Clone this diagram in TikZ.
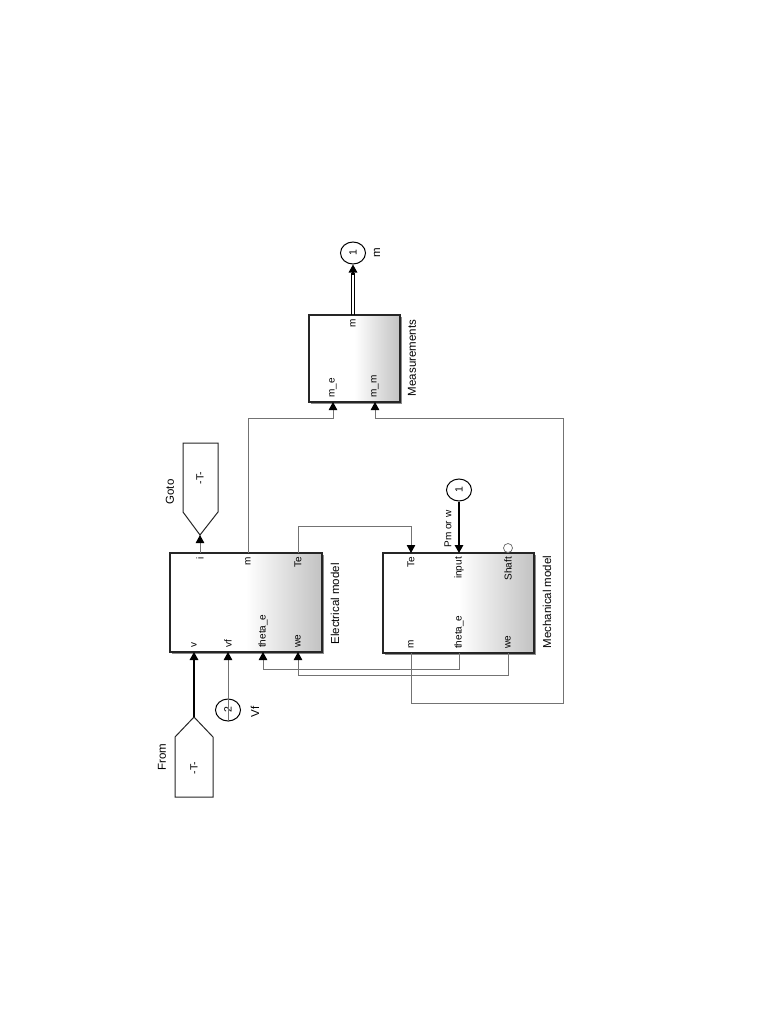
\documentclass[tikz,border=0pt]{standalone}
\usepackage{fontspec}
\setmainfont{Liberation Sans}
\usetikzlibrary{arrows.meta,shapes.geometric,shadows,calc}
\begin{document}
\begin{tikzpicture}[x=1pt,y=-1pt,
  blk/.style={draw=black!85, line width=1.2pt, left color=white, right color=black!24, middle color=white,
    drop shadow={shadow xshift=2pt,shadow yshift=-2pt,fill=black!45,opacity=1}, inner sep=0pt},
  prt/.style={ellipse, draw=black, line width=1pt, fill=white, minimum width=25pt, minimum height=22pt,
    inner sep=0pt, font=\fontsize{10.5}{10.5}\selectfont},
  plab/.style={rotate=90, inner sep=0pt, font=\fontsize{10}{10}\selectfont},
  blab/.style={rotate=90, inner sep=0pt, font=\fontsize{11.5}{12}\selectfont},
  tip/.style={-{Triangle[length=8pt,width=8.5pt,color=black]}},
  sig/.style={draw=black!55, line width=0.8pt},
  thk/.style={draw=black, line width=1.5pt},
  tagshape/.style={draw=black!85, line width=1pt, fill=white}
]
\fill[white] (0,0) rectangle (768,1024);
\useasboundingbox (0,0) rectangle (768,1024);

% ---- blocks
\node[blk, minimum width=152pt, minimum height=99pt] (E) at (246,602.5) {};
\node[blk, minimum width=151pt, minimum height=100pt] (K) at (458.5,603) {};
\node[blk, minimum width=91pt, minimum height=87pt] (M) at (354.5,358.5) {};

\node[blab] (Elab) at (335,604) {Electrical model};
\node[blab] (Klab) at (547,602) {Mechanical model};
\node[blab] (Mlab) at (412,358) {Measurements};

% ---- port coordinates
\coordinate (Ev)  at (194,652);
\coordinate (Evf) at (228,652);
\coordinate (Eth) at (263,652);
\coordinate (Ewe) at (298,652);
\coordinate (Ei)  at (200,553);
\coordinate (Em)  at (248,553);
\coordinate (ETe) at (298,553);

\coordinate (KTe) at (411,553);
\coordinate (Kin) at (459,553);
\coordinate (Km)  at (411,653);
\coordinate (Kth) at (459,653);
\coordinate (Kwe) at (508,653);

\coordinate (Mme) at (333,402);
\coordinate (Mmm) at (375,402);
\coordinate (Mo)  at (353,315);

% ---- port labels
\node[plab, anchor=west] (lv)  at ($(Ev)+(0,-4)$) {v};
\node[plab, anchor=west] (lvf) at ($(Evf)+(0,-4)$) {vf};
\node[plab, anchor=west] (lth) at ($(Eth)+(0,-4)$) {theta\_e};
\node[plab, anchor=west] (lwe) at ($(Ewe)+(0,-4)$) {we};
\node[plab, anchor=east] (li)  at ($(Ei)+(0,4)$) {i};
\node[plab, anchor=east] (lm)  at ($(Em)+(0,4)$) {m};
\node[plab, anchor=east] (lTe) at ($(ETe)+(0,4)$) {Te};

\node[plab, anchor=east] (kTe) at ($(KTe)+(0,4)$) {Te};
\node[plab, anchor=east] (kin) at ($(Kin)+(0,4)$) {input};
\node[plab, anchor=east] (ksh) at (508,557) {Shaft};
\node[plab, anchor=west] (km)  at ($(Km)+(0,-4)$) {m};
\node[plab, anchor=west] (kth) at ($(Kth)+(0,-4)$) {theta\_e};
\node[plab, anchor=west] (kwe) at ($(Kwe)+(0,-4)$) {we};

\node[plab, anchor=west] (mme) at ($(Mme)+(0,-4)$) {m\_e};
\node[plab, anchor=west] (mmm) at ($(Mmm)+(0,-4)$) {m\_m};
\node[plab, anchor=east] (mo)  at ($(Mo)+(0,4)$) {m};

% shaft physical port
\node[circle, draw=black!60, fill=white, line width=0.7pt, minimum width=9pt, inner sep=0pt] (Sh) at (508,548) {};

% ---- in/out ports
\node[prt] (O)  at (353,253) {\rotatebox{90}{1}};
\node[blab] (Olab) at (377,253) {m};
\node[prt] (P)  at (459,490) {\rotatebox{90}{1}};
\node[plab] (Plab) at (448,529) {Pm or w};
\node[prt] (VF) at (228,710) {\rotatebox{90}{2}};
\node[blab] (VFlab) at (255,712) {Vf};

% ---- Goto tag
\draw[tagshape] (183,443) -- (218,443) -- (218,512) -- (200,535) -- (183,512) -- cycle;
\coordinate (Gt) at (200,535);
\node[plab, font=\fontsize{10.5}{10.5}\selectfont] (Gin) at (200,478) {-T-};
\node[blab] (Glab) at (170,492) {Goto};

% ---- From tag
\draw[tagshape] (175,797) -- (213,797) -- (213,737) -- (194,717) -- (175,737) -- cycle;
\coordinate (Ft) at (194,717);
\node[plab, font=\fontsize{10.5}{10.5}\selectfont] (Fin) at (194,768) {-T-};
\node[blab] (Flab) at (162,757) {From};

% ---- connectors
\draw[thk, tip] (Ft) -- (Ev);
\draw[sig, tip] (VF.south) -- (Evf);
\draw[sig, tip] (Ei) -- (Gt);
\draw[thk, tip] (P.south) -- (Kin);

\coordinate (j1) at (248,418);
\draw[sig, tip] (Em) -- (j1) -| (Mme);

\coordinate (k1) at (563,703);
\coordinate (k2) at (563,418);
\draw[sig, tip] (Km) |- (k1) -- (k2) -| (Mmm);

\coordinate (t1) at (298,526);
\draw[sig, tip] (ETe) -- (t1) -| (KTe);

\coordinate (h1) at (459,669);
\draw[sig, tip] (Kth) -- (h1) -| (Eth);

\coordinate (w1) at (508,675);
\draw[sig, tip] (Kwe) -- (w1) -| (Ewe);

% bus (double line) from Measurements to outport m
\coordinate (o1) at ($(O.south)+(0,8)$);
\draw[black, line width=0.9pt] ($(Mo)+(-1.6,0)$) -- ($(o1)+(-1.6,0)$);
\draw[black, line width=0.9pt] ($(Mo)+(1.6,0)$) -- ($(o1)+(1.6,0)$);
\draw[thk, tip] ($(o1)+(0,2)$) -- (O.south);
\end{tikzpicture}
\end{document}
